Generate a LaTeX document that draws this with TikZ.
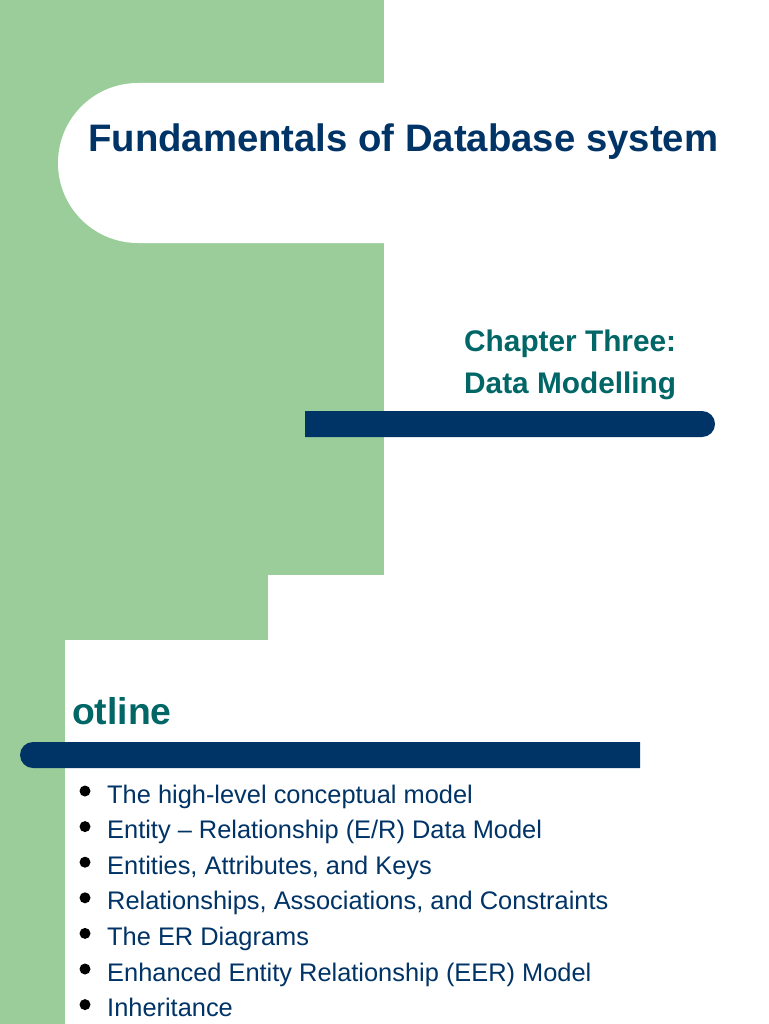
\documentclass[tikz,border=0pt]{standalone}
\usepackage{fontspec}
\setmainfont{Liberation Sans}
\definecolor{grn}{RGB}{155,205,155}
\definecolor{navy}{RGB}{0,51,102}
\definecolor{teal}{RGB}{0,102,102}
\tikzset{bar/.style={fill=navy,draw=none},
 bul/.style={anchor=base west,text=navy,font=\fontsize{25.4}{25.4}\selectfont,inner sep=0pt},
 dot/.style={circle,fill=black,inner sep=0pt,minimum size=11pt}}
\begin{document}
\begin{tikzpicture}[x=1pt,y=-1pt]
\useasboundingbox (0,0) rectangle (768,1024);
\fill[white] (0,0) rectangle (768,1024);
\fill[grn] (0,0) rectangle (384,575);
\fill[grn] (0,575) rectangle (268,640);
\fill[grn] (0,640) rectangle (65,1024);
\fill[white] (65,1024) -- (65,662) arc[start angle=180,end angle=270,radius=22] -- (268,640) -- (268,1024) -- cycle;
\fill[white] (384,83) -- (138,83) arc[start angle=270,end angle=90,radius=80] -- (384,243) -- cycle;
\fill[bar] (305,411) -- (702,411) arc[start angle=270,end angle=450,radius=13] -- (305,437) -- cycle;
\fill[bar] (640,742) -- (33,742) arc[start angle=270,end angle=90,radius=13] -- (640,768) -- cycle;
\node[anchor=base west,inner sep=0pt,text=navy,font=\bfseries\fontsize{38.3}{38.3}\selectfont] (title) at (88,152) {Fundamentals of Database system};
\node[anchor=base west,inner sep=0pt,text=teal,font=\bfseries\fontsize{29.8}{29.8}\selectfont] (ch1) at (464,351) {Chapter Three:};
\node[anchor=base west,inner sep=0pt,text=teal,font=\bfseries\fontsize{29.8}{29.8}\selectfont] (ch2) at (464,393) {Data Modelling};
\node[anchor=base west,inner sep=0pt,text=teal,font=\bfseries\fontsize{37.3}{37.3}\selectfont] (ot) at (72,724) {otline};
\foreach \t [count=\i] in {The high-level conceptual model,Entity – Relationship (E/R) Data Model,{Entities, Attributes, and Keys},{Relationships, Associations, and Constraints},The ER Diagrams,Enhanced Entity Relationship (EER) Model,Inheritance}{
  \node[bul] (b\i) at (107,{803+35.6*(\i-1)}) {\t};
  \node[dot] (d\i) at (85,{791+35.6*(\i-1)}) {};
}
\end{tikzpicture}
\end{document}
